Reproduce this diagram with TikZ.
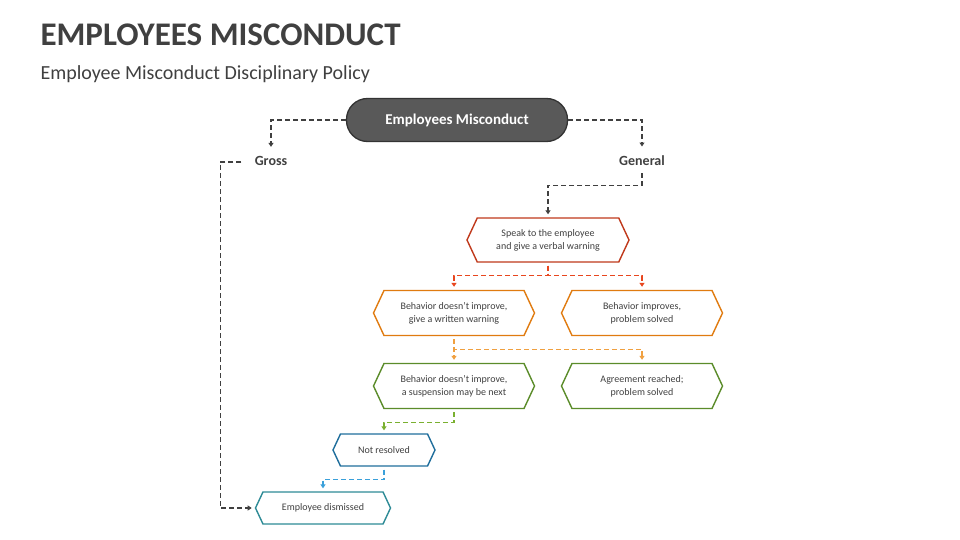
\documentclass[tikz,border=0pt]{standalone}
\usepackage{fontspec}
\setmainfont{Carlito}
\usetikzlibrary{shapes.symbols,arrows.meta,calc}
\definecolor{cRed}{HTML}{C0391B}
\definecolor{cRedL}{HTML}{E8461E}
\definecolor{cOr}{HTML}{E07B10}
\definecolor{cOrL}{HTML}{F0A040}
\definecolor{cGr}{HTML}{5B8C2A}
\definecolor{cGrL}{HTML}{7AB030}
\definecolor{cBl}{HTML}{1F6E9C}
\definecolor{cBlL}{HTML}{3AA0DA}
\definecolor{cTe}{HTML}{2E8B96}
\definecolor{cDk}{HTML}{404040}
\tikzset{
  hexbox/.style={shape=signal, signal to=west and east, signal pointer angle=130,
    draw=#1, line width=1.4pt, fill=white, align=center, inner sep=0pt,
    font=\fontsize{10}{13}\selectfont, text=cDk},
  conn/.style={draw=#1, line width=1.3pt, dash pattern=on 5pt off 3pt,
    -{Triangle[length=4pt,width=5pt]}, shorten >=3pt},
  lbl/.style={font=\bfseries\fontsize{14}{16}\selectfont, text=cDk},
}
\begin{document}
\begin{tikzpicture}[x=1pt,y=-1pt]
\useasboundingbox (0,0) rectangle (960,540);
\node[anchor=west, font=\bfseries\fontsize{33}{36}\selectfont, text=cDk] (title) at (37,35) {EMPLOYEES MISCONDUCT};
\node[anchor=west, font=\fontsize{20}{24}\selectfont, text=cDk] (sub) at (37,74) {Employee Misconduct Disciplinary Policy};

\node[draw=black!80, line width=1.3pt, fill=black!65, rounded corners=21pt, minimum width=221pt, minimum height=43pt,
  font=\bfseries\fontsize{15}{18}\selectfont, text=white] (top) at (457,120) {Employees Misconduct};
\node[lbl] (gross) at (271,161) {Gross};
\node[lbl] (gen) at (642,161) {General};

\node[hexbox=cRed, minimum width=162pt, minimum height=44pt] (speak) at (548,240) {Speak to the employee\\and give a verbal warning};
\node[hexbox=cOr, minimum width=161pt, minimum height=45pt] (w) at (454,313) {Behavior doesn't improve,\\give a written warning};
\node[hexbox=cOr, minimum width=161pt, minimum height=45pt] (imp) at (642,313) {Behavior improves,\\problem solved};
\node[hexbox=cGr, minimum width=161pt, minimum height=45pt] (susp) at (454,386) {Behavior doesn't improve,\\a suspension may be next};
\node[hexbox=cGr, minimum width=161pt, minimum height=45pt] (agr) at (642,386) {Agreement reached;\\problem solved};
\node[hexbox=cBl, minimum width=102pt, minimum height=32pt] (nr) at (384,450) {Not resolved};
\node[hexbox=cTe, minimum width=135pt, minimum height=32pt] (dis) at (323,508) {Employee dismissed};

\draw[conn=cDk, shorten >=6pt] (top.west) -| (gross.north);
\draw[conn=cDk, shorten >=6pt] (top.east) -| (gen.north);
\draw[conn=cDk, shorten <=4pt] (gen.south) -- ++(0,16) -| (speak.north);
\draw[conn=cDk] ($(gross.west)+(-10,1)$) -| ++(-21,0) |- (dis.west);
\draw[conn=cRedL] (speak.south) ++(0,3) -- ++(0,10) -| (w.north);
\draw[conn=cRedL] (speak.south) ++(0,3) -- ++(0,10) -| (imp.north);
\draw[conn=cOrL] (w.south) ++(0,3) -- ++(0,10) -| (susp.north);
\draw[conn=cOrL] (w.south) ++(0,3) -- ++(0,10) -| (agr.north);
\draw[conn=cGrL] (susp.south) ++(0,3) -- ++(0,10) -| (nr.north);
\draw[conn=cBlL] (nr.south) ++(0,3) -- ++(0,10) -| (dis.north);
\end{tikzpicture}
\end{document}
